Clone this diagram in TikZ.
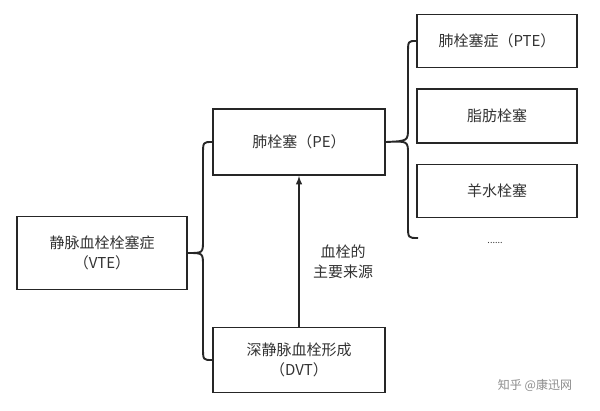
\documentclass[tikz,border=0pt]{standalone}
\usepackage{fontspec}
\setmainfont{Noto Sans CJK SC}
\usetikzlibrary{arrows}

\tikzset{
  box/.style={draw=black!85, line width=1.9pt, align=center, font=\fontsize{15}{20}\selectfont, text=black!80},
  brace/.style={draw=black!85, line width=1.9pt}
}

\begin{document}
\begin{tikzpicture}[x=1pt,y=-1pt]
			\useasboundingbox (0,0) rectangle (600,410);
			\node[box, minimum width=170pt, minimum height=73pt] (vte) at (102,253) {静脉血栓栓塞症\\（VTE）};
			\node[box, minimum width=172pt, minimum height=66pt] (pe) at (299,142) {肺栓塞（PE）};
			\node[box, minimum width=172pt, minimum height=65pt] (dvt) at (299,360) {深静脉血栓形成\\（DVT）};
			\node[box, minimum width=160pt, minimum height=53pt] (pte) at (497,41) {肺栓塞症（PTE）};
			\node[box, minimum width=160pt, minimum height=54pt] (fat) at (497,116) {脂肪栓塞};
			\node[box, minimum width=160pt, minimum height=53pt] (amn) at (497,191) {羊水栓塞};
			\node[text=black!80, font=\small] (more) at (495,243) {......};
			
			% left brace
			\draw[brace] (pe.west) .. controls (203,142) .. (203,155) -- (203,240)
			  .. controls (203,253) .. (vte.east)
			  (vte.east) .. controls (203,253) .. (203,266) -- (203,347)
			  .. controls (203,360) .. (dvt.west);
			% right brace
			\draw[brace] (pte.west) .. controls (408,41) .. (408,54) -- (408,128)
			  .. controls (408,141) .. (pe.east)
			  (pe.east) .. controls (408,141) .. (408,154) -- (408,225)
			  .. controls (408,238) .. (418,238);
			
			\draw[-latex, line width=1.9pt, draw=black!85] (dvt) -- (pe);
			\node[align=center, font=\fontsize{15}{20}\selectfont, text=black!80] (src) at (343,262) {血栓的\\主要来源};
			\node[text=black!45, font=\fontsize{12}{14}\selectfont] (mark) at (535,385) {知乎 @康迅网};
\end{tikzpicture}
\end{document}
